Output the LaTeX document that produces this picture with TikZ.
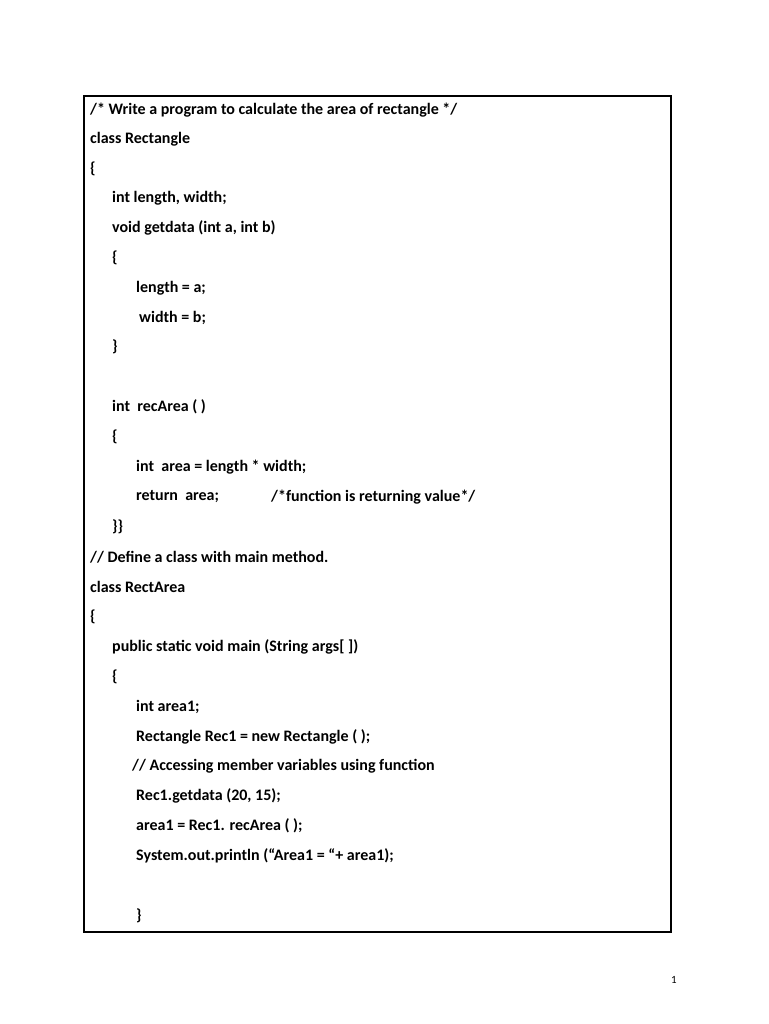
\documentclass[tikz,border=0pt]{standalone}
\usepackage{fontspec}
\setmainfont{Carlito}
\begin{document}
\begin{tikzpicture}[x=1pt,y=-1pt,
  code/.style={anchor=west,inner sep=0pt,font=\bfseries\fontsize{16}{18}\selectfont}]
\useasboundingbox (0,0) rectangle (768,1024);
\draw[line width=1.2pt] (84,96) rectangle (671,932);
\draw[line width=1.6pt] (84,932) -- (671,932);
\node[code] (l1) at (90,110) {/* Write a program to calculate the area of rectangle */};
\node[code] (l2) at (90,139) {class Rectangle};
\node[code] (l3) at (90,169) {\{};
\node[code] (l4) at (112,198) {int length, width;};
\node[code] (l5) at (112,228) {void getdata (int a, int b)};
\node[code] (l6) at (112,258) {\{};
\node[code] (l7) at (136,288) {length = a;};
\node[code] (l8) at (139,318) {width = b;};
\node[code] (l9) at (112,347) {\}};
\node[code] (l10) at (112,407) {int\ \ recArea ( )};
\node[code] (l11) at (112,437) {\{};
\node[code] (l12) at (136,467) {int\ \ area = length * width;};
\node[code] (l13) at (136,497) {return\ \ area;};
\node[code] (l13b) at (271,497) {/*function is returning value*/};
\node[code] (l14) at (112,527) {\}\}};
\node[code] (l15) at (90,557) {// Define a class with main method.};
\node[code] (l16) at (90,587) {class RectArea};
\node[code] (l17) at (90,617) {\{};
\node[code] (l18) at (112,647) {public static void main (String args[ ])};
\node[code] (l19) at (112,677) {\{};
\node[code] (l20) at (136,707) {int area1;};
\node[code] (l21) at (136,737) {Rectangle Rec1 = new Rectangle ( );};
\node[code] (l22) at (132,766) {// Accessing member variables using function};
\node[code] (l23) at (136,796) {Rec1.getdata (20, 15);};
\node[code] (l24) at (136,826) {area1 = Rec1. recArea ( );};
\node[code] (l25) at (136,856) {System.out.println (“Area1 = “+ area1);};
\node[code] (l26) at (136,916) {\}};
\node[anchor=west,inner sep=0pt,font=\fontsize{11}{13}\selectfont] (pg) at (671,980) {1};
\end{tikzpicture}
\end{document}
